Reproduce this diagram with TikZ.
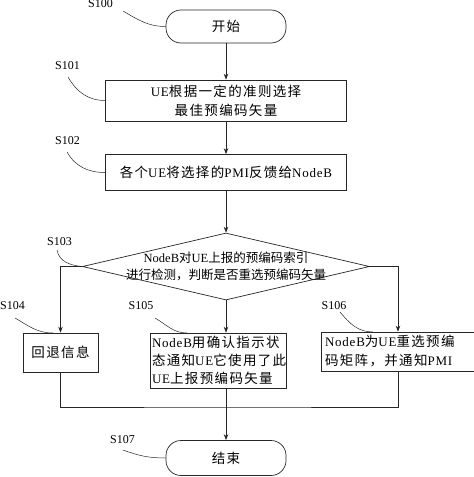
\documentclass[tikz,border=0pt]{standalone}
\usepackage{fontspec}
\setmainfont{Liberation Serif}
\newfontfamily\zhfont{Noto Sans CJK SC}
\newfontfamily\zhsfont{Noto Sans CJK SC}[LetterSpace=10]
\newfontfamily\enspfont{Liberation Serif}[LetterSpace=6]
\newcommand\Z[1]{{\zhsfont\fontsize{13.5}{19}\selectfont #1}}
\newcommand\zz[1]{{\zhfont #1}}
\usetikzlibrary{arrows.meta,shapes.geometric,calc}
\begin{document}
\begin{tikzpicture}[x=1pt,y=-1pt,
  line width=0.7pt,
  box/.style={draw=black!85, rectangle, inner sep=0pt, font=\fontsize{13}{19}\enspfont, align=center},
  term/.style={draw=black!85, rectangle, rounded corners=15pt, inner sep=0pt, minimum width=120pt, font=\fontsize{13.5}{19}\zhsfont},
  arr/.style={draw=black!85, -{Stealth[length=6pt,width=4.5pt]}},
  ln/.style={draw=black!85},
  lab/.style={font=\fontsize{12}{14}\selectfont, inner sep=0pt},
  lead/.style={draw=black!85, line width=0.5pt}]
\useasboundingbox (0,0) rectangle (474,477);
% nodes
\node[term, minimum height=33pt] (s100) at (226,26.5) {开始};
\node[box, minimum width=241pt, minimum height=41pt] (s101) at (226,100.5) {UE\Z{根据一定的准则选择}\\\Z{最佳预编码矢量}};
\node[box, minimum width=241pt, minimum height=36pt] (s102) at (226,172.5) {\Z{各个}UE\Z{将选择的}PMI\Z{反馈给}NodeB};
\node[draw=black!85, diamond, minimum width=287pt, minimum height=67pt, inner sep=0pt] (s103) at (226,266.5) {};
\node[font=\fontsize{12.5}{17}\selectfont, align=center, inner sep=0pt] (s103t) at (226,266.5) {NodeB\zz{对}UE\zz{上报的预编码索引}\\\zz{进行检测，判断是否重选预编码矢量}};
\node[box, minimum width=75pt, minimum height=39pt] (s104) at (60.5,352.5) {\Z{回退信息}};
\node[box, minimum width=136pt, minimum height=55pt, text width=132pt, align=left, font=\fontsize{13}{18}\enspfont] (s105) at (218,360.5) {NodeB\Z{用确认指示状}\\\Z{态通知}UE\Z{它使用了此}\\UE\Z{上报预编码矢量}};
\node[box, minimum width=154pt, minimum height=39pt, text width=146pt, align=left] (s106) at (398,351.5) {NodeB\Z{为}UE\Z{重选预编}\\\Z{码矩阵，并通知}PMI};
\node[term, minimum height=35pt] (s107) at (226,458) {结束};
% connectors
\draw[arr] (s100) -- (s101);
\draw[arr] (s101) -- (s102);
\draw[arr] (s102) -- (s103.north);
\draw[arr] (s103.west) -| (s104.north);
\draw[arr] (s103.east) -| (s106.north);
\draw[arr] (s103.south) -- (s103.south |- s105.north);
\coordinate (j) at (226,407);
\draw[ln] (s104.south) |- (j) -| (s106.south);
\draw[arr] (s103.south |- s105.south) -- (s107.north);
% labels
\node[lab] (l100) at (100.5,4) {S100};
\node[lab] (l101) at (67.5,66) {S101};
\node[lab] (l102) at (67.5,141) {S102};
\node[lab] (l103) at (59.5,242) {S103};
\node[lab] (l104) at (12.5,306) {S104};
\node[lab] (l105) at (141,306) {S105};
\node[lab] (l106) at (334,306) {S106};
\node[lab] (l107) at (122.5,440) {S107};
\coordinate (c100) at (123,11);
\coordinate (c101) at (68,77);
\coordinate (c102) at (67,152);
\coordinate (c103) at (57,250);
\coordinate (c104) at (15,318);
\coordinate (c105) at (155,318);
\coordinate (c106) at (340,312);
\coordinate (c107) at (123,450);
\coordinate (e104) at (53,333);
\coordinate (e105) at (187,333);
\coordinate (e106) at (373,332);
\draw[lead] (c100) to[out=-30,in=180] (s100.west);
\draw[lead] (c101) to[out=-60,in=180] (s101.west);
\draw[lead] (c102) to[out=-60,in=180] (s102.west);
\draw[lead] (c103) to[out=-80,in=175] (s103.west);
\draw[lead] (c104) to[out=-30,in=180] (e104);
\draw[lead] (c105) to[out=-30,in=180] (e105);
\draw[lead] (c106) to[out=-50,in=180] (e106);
\draw[lead] (c107) to[out=-20,in=180] (s107.west);
\end{tikzpicture}
\end{document}
